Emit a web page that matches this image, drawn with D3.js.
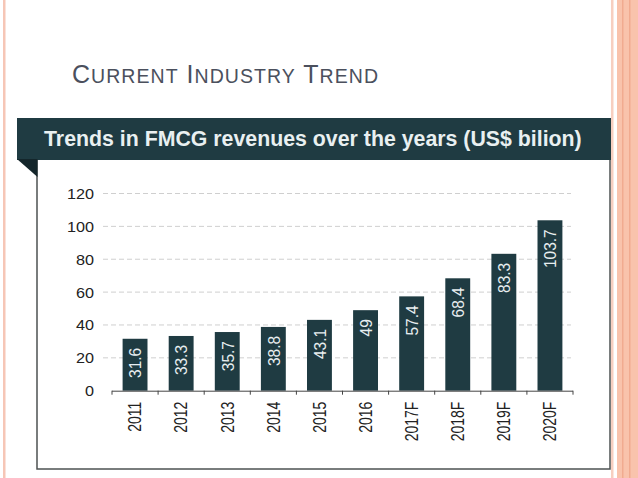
<!DOCTYPE html>
<html>
<head>
<meta charset="utf-8">
<script src="https://cdn.jsdelivr.net/npm/d3@7"></script>
<style>
  body { margin: 0; background: #fff; }
  svg { display: block; font-family: 'Liberation Sans', Arial, sans-serif; }
</style>
</head>
<body>
<div id="chart"></div>
<script>
const years = ['2011', '2012', '2013', '2014', '2015', '2016', '2017F', '2018F', '2019F', '2020F'];
const revenues = [31.6, 33.3, 35.7, 38.8, 43.1, 49, 57.4, 68.4, 83.3, 103.7];
const yTicks = [0, 20, 40, 60, 80, 100, 120];
const titleWords = ['Current', 'Industry', 'Trend'];
const header = 'Trends in FMCG revenues over the years (US$ bilion)';

const W = 638, H = 478;
const dark = '#1f3b42';

const svg = d3.select('#chart').append('svg')
  .attr('width', W)
  .attr('height', H);

// slide decoration
svg.append('rect').attr('x', 3).attr('y', 0).attr('width', 2.5).attr('height', H).attr('fill', '#f6c6b6');
svg.append('rect').attr('x', 611).attr('y', 0).attr('width', 2.5).attr('height', H).attr('fill', '#f7cfc0');
svg.append('rect').attr('x', 617).attr('y', 0).attr('width', 21).attr('height', H).attr('fill', '#f9c3ac');
[622, 629].forEach(x => {
  svg.append('rect').attr('x', x).attr('y', 0).attr('width', 1.5).attr('height', H).attr('fill', '#f1ab90');
});

// slide title in small caps
const title = svg.append('text')
  .attr('x', 72)
  .attr('y', 83)
  .attr('fill', '#4b505d');
titleWords.forEach((w, i) => {
  title.append('tspan').attr('font-size', 25).text((i ? ' ' : '') + w[0].toUpperCase());
  title.append('tspan').attr('font-size', 19.5).text(w.slice(1).toUpperCase());
});
title.attr('textLength', 306).attr('lengthAdjust', 'spacing');

// chart box
svg.append('rect')
  .attr('x', 37).attr('y', 159)
  .attr('width', 573).attr('height', 310)
  .attr('fill', '#fff')
  .attr('stroke', '#4d5252')
  .attr('stroke-width', 1.5);

// header ribbon
svg.append('rect')
  .attr('x', 17).attr('y', 118)
  .attr('width', 594).attr('height', 42)
  .attr('fill', dark);
svg.append('path')
  .attr('d', 'M17,159 L37.5,159 L37.5,177 Z')
  .attr('fill', '#14262b');

const head = svg.append('text')
  .attr('x', 44)
  .attr('y', 146)
  .attr('fill', '#e9f0f1')
  .attr('font-weight', 'bold')
  .attr('font-size', 18)
  .text(header);
const hw = head.node().getComputedTextLength();
head.attr('font-size', 18 * 538 / hw);

// plot
const x = d3.scaleBand()
  .domain(years)
  .range([112, 573])
  .paddingInner(0.46)
  .paddingOuter(0.23);

const y = d3.scaleLinear()
  .domain([0, 120])
  .range([390.7, 193.5]);

// gridlines
svg.append('g')
  .selectAll('line')
  .data(yTicks.filter(d => d > 0))
  .join('line')
  .attr('x1', 103)
  .attr('x2', 571)
  .attr('y1', d => y(d))
  .attr('y2', d => y(d))
  .attr('stroke', '#cfcfcf')
  .attr('stroke-width', 1)
  .attr('stroke-dasharray', '5,3');

// y labels (source image is a bit stretched sideways)
svg.append('g')
  .selectAll('text')
  .data(yTicks)
  .join('text')
  .attr('transform', d => `translate(94,${y(d)}) scale(1.08,1)`)
  .attr('dy', '0.36em')
  .attr('text-anchor', 'end')
  .attr('font-size', 15)
  .attr('fill', '#222')
  .text(d => d);

// bars
svg.append('g')
  .selectAll('rect')
  .data(revenues)
  .join('rect')
  .attr('x', (d, i) => x(years[i]))
  .attr('y', d => y(d))
  .attr('width', x.bandwidth())
  .attr('height', d => y(0) - y(d))
  .attr('fill', dark);

// value labels inside the bars
svg.append('g')
  .selectAll('text')
  .data(revenues)
  .join('text')
  .attr('transform', (d, i) => `translate(${x(years[i]) + x.bandwidth() / 2},${y(d) + 9}) scale(1.12,1) rotate(-90)`)
  .attr('dy', '0.36em')
  .attr('text-anchor', 'end')
  .attr('font-size', 15.5)
  .attr('fill', '#e8eef0')
  .text(d => d);

// x axis
const xAxis = svg.append('g')
  .attr('transform', `translate(0,${y(0)})`)
  .call(d3.axisBottom(x).tickSize(0).tickFormat(''));
xAxis.select('.domain').attr('stroke', '#444').attr('d', 'M112,0.5H573');
const bounds = years.map(d => x(d) - x.step() * x.paddingInner() / 2).concat([573]);
xAxis.selectAll('.sep')
  .data(bounds)
  .join('line')
  .attr('class', 'sep')
  .attr('x1', d => d).attr('x2', d => d)
  .attr('y1', 0).attr('y2', 4)
  .attr('stroke', '#444');

svg.append('g')
  .selectAll('text')
  .data(years)
  .join('text')
  .attr('transform', d => `translate(${x(d) + x.bandwidth() / 2},${y(0) + 11}) scale(1.25,1) rotate(-90)`)
  .attr('dy', '0.36em')
  .attr('text-anchor', 'end')
  .attr('font-size', 14)
  .attr('fill', '#222')
  .text(d => d);
</script>
</body>
</html>
